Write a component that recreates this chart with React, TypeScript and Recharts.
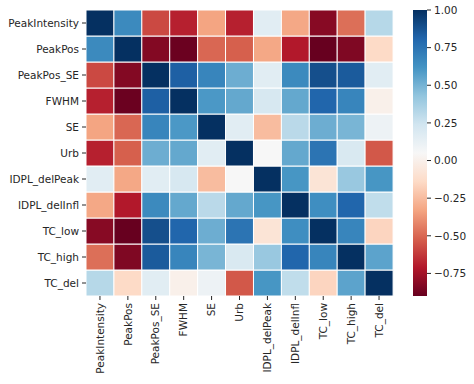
import React from 'react';
import { BarChart, Bar, Cell, XAxis, YAxis } from 'recharts';

// variable names (rows and columns share the same order)
const labels = [
  'PeakIntensity', 'PeakPos', 'PeakPos_SE', 'FWHM', 'SE', 'Urb',
  'IDPL_delPeak', 'IDPL_delInfl', 'TC_low', 'TC_high', 'TC_del',
];

// correlation rows
const peakIntensity = [1, 0.66, -0.58, -0.69, -0.33, -0.69, 0.16, -0.32, -0.82, -0.48, 0.32];
const peakPos = [0.66, 1, -0.83, -0.89, -0.50, -0.52, -0.32, -0.71, -0.90, -0.84, -0.14];
const peakPosSE = [-0.58, -0.83, 1, 0.83, 0.68, 0.52, 0.16, 0.66, 0.89, 0.85, 0.16];
const fwhm = [-0.69, -0.89, 0.83, 1, 0.60, 0.54, 0.21, 0.54, 0.81, 0.68, 0.00];
const se = [-0.33, -0.50, 0.68, 0.60, 1, 0.16, -0.25, 0.31, 0.52, 0.49, 0.10];
const urb = [-0.69, -0.52, 0.52, 0.54, 0.16, 1, 0.05, 0.54, 0.75, 0.20, -0.54];
const idplDelPeak = [0.16, -0.32, 0.16, 0.21, -0.25, 0.05, 1, 0.61, -0.08, 0.41, 0.61];
const idplDelInfl = [-0.32, -0.71, 0.66, 0.54, 0.31, 0.54, 0.61, 1, 0.64, 0.81, 0.29];
const tcLow = [-0.82, -0.90, 0.89, 0.81, 0.52, 0.75, -0.08, 0.64, 1, 0.68, -0.16];
const tcHigh = [-0.48, -0.84, 0.85, 0.68, 0.49, 0.20, 0.41, 0.81, 0.68, 1, 0.56];
const tcDel = [0.32, -0.14, 0.16, 0.00, 0.10, -0.54, 0.61, 0.29, -0.16, 0.56, 1];

const corr = [peakIntensity, peakPos, peakPosSE, fwhm, se, urb, idplDelPeak, idplDelInfl, tcLow, tcHigh, tcDel];

const cbarTicks = [-0.75, -0.5, -0.25, 0, 0.25, 0.5, 0.75, 1];

const vmin = Math.min(...corr.flat());
const vmax = 1;

// matplotlib RdBu anchors
const RDBU = ['#67001f', '#b2182b', '#d6604d', '#f4a582', '#fddbc7', '#f7f7f7',
  '#d1e5f0', '#92c5de', '#4393c3', '#2166ac', '#053061'];

function hexToRgb(h: string) {
  const n = parseInt(h.slice(1), 16);
  return [(n >> 16) & 255, (n >> 8) & 255, n & 255];
}

function cmap(t: number) {
  const c = Math.max(0, Math.min(1, t)) * (RDBU.length - 1);
  const i = Math.min(Math.floor(c), RDBU.length - 2);
  const f = c - i;
  const a = hexToRgb(RDBU[i]);
  const b = hexToRgb(RDBU[i + 1]);
  const m = a.map((v, k) => Math.round(v + (b[k] - v) * f));
  return `rgb(${m[0]},${m[1]},${m[2]})`;
}

const colorFor = (v: number) => cmap((v - vmin) / (vmax - vmin));

// one entry per column, each row stacked as a unit block (bottom row first)
const heatData = labels.map((name) => {
  const d: Record<string, any> = { name };
  labels.forEach((_, i) => { d[`r${i}`] = 1; });
  return d;
});
const stackOrder = labels.map((_, k) => labels.length - 1 - k);

const font = 'DejaVu Sans';
const fontSize = 10.5;
const textColor = '#262626';

const XTick = (props: any) => {
  const { x, y, payload } = props;
  return (
    <g transform={`translate(${x},${y})`}>
      <text transform="rotate(-90)" textAnchor="end" dy="0.35em"
        fontSize={fontSize} fill={textColor} fontFamily={font}>
        {payload.value}
      </text>
    </g>
  );
};

const cbarData = [{ name: 'cbar', range: [vmin, vmax] }];
const fmt = (v: number) => (v < 0 ? '\u2212' : '') + Math.abs(v).toFixed(2);

export default function App() {
  return (
    <div style={{ position: 'absolute', left: 0, top: 0, width: 474, height: 384, background: '#fff' }}>
      <div style={{ position: 'absolute', left: 0, top: 0 }}>
        <BarChart width={474} height={384} data={heatData}
          margin={{ top: 10, right: 81, bottom: 0, left: 0 }}
          barCategoryGap={0} barGap={0}>
          <XAxis dataKey="name" height={88} interval={0} axisLine={false}
            tickSize={4} tickMargin={3} tickLine={{ stroke: textColor }}
            tick={<XTick />} />
          <YAxis type="number" domain={[0, labels.length]} width={86}
            ticks={labels.map((_, k) => k + 0.5)} interval={0} axisLine={false}
            tickSize={4} tickMargin={3} tickLine={{ stroke: textColor }}
            tickFormatter={(v: number) => labels[labels.length - 1 - Math.floor(v)]}
            tick={{ fontSize, fill: textColor, fontFamily: font }} />
          {stackOrder.map((i) => (
            <Bar key={i} dataKey={`r${i}`} stackId="s" isAnimationActive={false}
              stroke="#fff" strokeWidth={1}>
              {labels.map((_, j) => (
                <Cell key={j} fill={colorFor(corr[i][j])} />
              ))}
            </Bar>
          ))}
        </BarChart>
      </div>
      <div style={{ position: 'absolute', left: 413, top: 0 }}>
        <BarChart width={61} height={384} data={cbarData}
          margin={{ top: 10, right: 0, bottom: 88, left: 0 }}
          barCategoryGap={0}>
          <defs>
            <linearGradient id="cbGrad" x1="0" y1="0" x2="0" y2="1">
              {RDBU.map((_, k) => (
                <stop key={k} offset={k / (RDBU.length - 1)} stopColor={RDBU[RDBU.length - 1 - k]} />
              ))}
            </linearGradient>
          </defs>
          <XAxis dataKey="name" hide />
          <YAxis orientation="right" type="number" domain={[vmin, vmax]} width={47}
            ticks={cbarTicks} interval={0} axisLine={false}
            tickSize={4} tickMargin={3} tickLine={{ stroke: textColor }}
            tickFormatter={fmt}
            tick={{ fontSize, fill: textColor, fontFamily: font }} />
          <Bar dataKey="range" fill="url(#cbGrad)" isAnimationActive={false} />
        </BarChart>
      </div>
    </div>
  );
}
